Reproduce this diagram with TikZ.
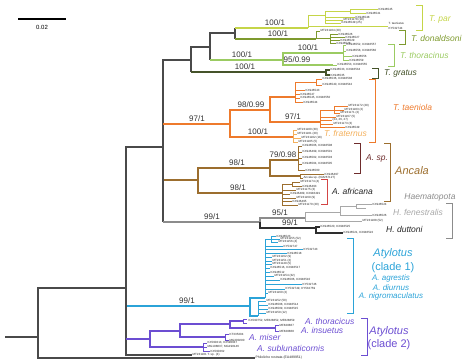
\documentclass[tikz,border=0pt]{standalone}
\usepackage{fontspec}
\setmainfont{Liberation Sans}
\definecolor{bb}{HTML}{4A4A4A}
\definecolor{tpar}{HTML}{C5D548}
\definecolor{tdon}{HTML}{7E9A2E}
\definecolor{tth}{HTML}{9BCB62}
\definecolor{tgr}{HTML}{45532A}
\definecolor{tae}{HTML}{EE7A2C}
\definecolor{fra}{HTML}{F3B05C}
\definecolor{anc}{HTML}{9C6E2E}
\definecolor{asp}{HTML}{6E2C2C}
\definecolor{afr}{HTML}{D34545}
\definecolor{hae}{HTML}{8C8C8C}
\definecolor{hfe}{HTML}{A8A8A8}
\definecolor{hdu}{HTML}{2E2E2E}
\definecolor{aty}{HTML}{2BA3D8}
\definecolor{atb}{HTML}{6C4ED2}
\tikzset{
 br/.style={line width=1.1pt},
 tb/.style={line width=0.75pt},
 tl/.style={font=\fontsize{3}{3.2}\selectfont, anchor=west, inner sep=0.4pt, text=black!85},
 bs/.style={font=\fontsize{8}{9}\selectfont, anchor=south, inner sep=0.6pt, text=black!80},
 sp/.style={font=\fontsize{8.5}{9}\selectfont\itshape, anchor=west, inner sep=0pt},
 grp/.style={font=\fontsize{11}{12}\selectfont, inner sep=0pt},
 brk/.style={line width=0.9pt},
}
\newcommand\tipc[5]{\coordinate (#1) at (#3); \draw[tb,#5] (#2) |- (#1); \node[tl] (#1l) at (#1) {#4};}
\newcommand\tipn[4]{\coordinate (#1) at (#3); \draw[tb,#4] (#2) |- (#1);}
\newcommand\inode[4]{\coordinate (#1) at (#3); \draw[tb,#4] (#2) |- (#1);}
\newcommand\cedge[4]{\draw[br,#3] (#1) -- (#1 |- #2); \draw[br,#4] (#1 |- #2) -- (#2);}
\newcommand\bsl[3]{\node[bs] (#1) at (#2) {#3};}
\newcommand\brkt[5]{\coordinate (#1a) at (#3,#4); \coordinate (#1b) at (#3,#5);
 \draw[brk,#2] ([xshift=-6pt]#1a) -- (#1a) -- (#1b) -- ([xshift=-6pt]#1b);}
\begin{document}
\begin{tikzpicture}[x=1pt,y=-1pt]
\useasboundingbox (0,0) rectangle (474,363);
% scale bar
\coordinate (sb1) at (18,19); \coordinate (sb2) at (66,19);
\draw[line width=1.2pt] (sb1) -- (sb2);
\node[font=\fontsize{6}{7}\selectfont] (sbl) at (42,27) {0.02};
% backbone
\coordinate (r0) at (5,337); \coordinate (R) at (38,337);
\coordinate (IN) at (126,288); \coordinate (OG) at (255,358);
\coordinate (U) at (163,147); \coordinate (X) at (192,355);
\draw[br,bb] (r0) -- (R);
\draw[br,bb] (R) |- (IN);
\draw[bb,line width=1.5pt] (R) |- (OG);
\node[tl,font=\fontsize{3.4}{3.6}\selectfont] (OGl) at (OG) {Philoliche rostrata (EU489951)};
\draw[br,bb] (IN) |- (U);
\draw[br,bb] (IN) |- (X);
\node[tl] (Xl) at (X) {MT231181 T. sp. (4)};
% T group
\coordinate (T0) at (191,60); \draw[br,bb] (U) |- (T0);
\coordinate (T1) at (210,47); \draw[br,bb] (T0) |- (T1);
\coordinate (T2) at (235,33); \draw[br,bb] (T1) |- (T2);
\coordinate (Tpar) at (308,28); \cedge{T2}{Tpar}{bb}{tpar}
\coordinate (Tdon) at (316,39); \cedge{T2}{Tdon}{bb}{tdon}
\coordinate (Tth) at (283,60); \cedge{T1}{Tth}{bb}{tth}
\coordinate (Tgr) at (326,72); \cedge{T0}{Tgr}{bb}{tgr}
% T. par
\tipc{tpa}{Tpar}{388,26}{\shortstack[l]{T. taeniatus\\KY532744}}{tpar}
\inode{tp1}{Tpar}{325,15}{tpar}
\inode{tp2}{tp1}{350,11}{tpar}
\tipc{tpb}{tp2}{378,9}{KX946545}{tpar}
\tipc{tpc}{tp2}{366,13}{KX946541}{tpar}
\tipc{tpd}{tp1}{355,17}{KX946548}{tpar}
\tipc{tpe}{tp1}{343,20}{MT231178 (19)}{tpar}
\tipc{tpf}{tp1}{341,23}{KX946549 (25)}{tpar}
% T. donaldsoni
\tipc{tda}{Tdon}{320,31}{MT231184 (20)}{tdon}
\inode{td1}{Tdon}{330,38}{tdon}
\tipc{tdb}{td1}{338,34}{KX946526}{tdon}
\tipc{tdc}{td1}{345,37}{KX946527}{tdon}
\tipc{tdd}{td1}{340,40}{KX946529}{tdon}
\tipc{tde}{td1}{336,43}{KX946528}{tdon}
% T. thoracinus
\coordinate (th1) at (343,53); \draw[br,tth] (Tth) |- (th1);
\coordinate (th2) at (333,65); \draw[br,tth] (Tth) |- (th2);
\tipc{tha}{th1}{346,45}{KX946552, KX946557}{tth}
\tipc{thb}{th1}{346,51}{KX946558, KX946560}{tth}
\tipc{thc}{th1}{352,56}{KX946556}{tth}
\tipc{thd}{th1}{349,60}{KX946559}{tth}
\tipc{the}{th2}{337,65}{KX946553, KX946555}{tth}
% T. gratus
\tipc{tga}{Tgr}{330,70}{KX946533, KX946534}{tgr,line width=1.2pt}
\tipc{tgb}{Tgr}{330,75}{KX946535}{tgr,line width=1.2pt}
% orange
\coordinate (O0) at (230,124); \cedge{U}{O0}{bb}{tae}
\coordinate (O1) at (270,110); \draw[br,tae] (O0) |- (O1);
\coordinate (O2) at (295,97); \draw[br,tae] (O1) |- (O2);
\coordinate (Ot) at (320,122); \draw[br,tae] (O1) |- (Ot);
\coordinate (Of) at (293,137); \draw[br,tae] (O0) |- (Of);
\inode{o3}{O2}{316,82}{tae}
\tipc{oa}{o3}{322,79}{KX946536, KX946538}{tae}
\tipc{ob}{o3}{322,85}{KX946540, KX946542}{tae}
\tipc{oc}{O2}{305,90}{KX946543}{tae}
\tipc{od}{O2}{300,94}{KX946547}{tae}
\tipc{oe}{O2}{300,98}{KX946545, KX946550}{tae}
\tipc{of}{O2}{303,102}{KX946544}{tae}
\inode{ot1}{Ot}{334,110}{tae}
\tipc{ota}{ot1}{348,106}{MT231172 (29)}{tae}
\tipc{otb}{ot1}{344,110}{MT231183 (2)}{tae}
\tipc{otc}{ot1}{340,113}{MT231171 (2)}{tae}
\tipc{otd}{Ot}{336,117}{MT231167 (5)}{tae}
\tipc{ote}{Ot}{332,120}{(24, 26, 27)}{tae}
\tipc{otf}{Ot}{333,124}{MT231173 (3)}{tae}
\tipc{otg}{Ot}{345,127}{KX946549}{tae}
\tipc{fa}{Of}{297,130}{MT231180 (30)}{fra}
\tipc{fb}{Of}{297,134}{MT231181 (20)}{fra}
\tipc{fc}{Of}{301,138}{MT231182 (18)}{fra}
\tipc{fd}{Of}{298,142}{MT231185 (5)}{fra}
% brown (Ancala)
\coordinate (B0) at (198,180); \cedge{U}{B0}{bb}{anc}
\coordinate (B1) at (270,168); \draw[br,anc] (B0) |- (B1);
\coordinate (Bsp) at (298,160); \draw[br,anc] (B1) |- (Bsp);
\coordinate (Bb) at (300,176); \draw[br,anc] (B1) |- (Bb);
\coordinate (Baf) at (282,193); \draw[br,anc] (B0) |- (Baf);
\tipc{sa}{Bsp}{302,146}{KX946506, KX946508}{anc}
\tipc{sb}{Bsp}{302,152}{KX946499, KX946501}{anc}
\tipc{sc}{Bsp}{302,158}{KX946502, KX946503}{anc}
\tipc{sd}{Bsp}{302,164}{KX946504, KX946505}{anc}
\tipc{se}{Bsp}{305,170}{KX946500}{anc}
\tipc{sf}{Bb}{324,174}{KX946497}{anc}
\tipc{sg}{Bb}{303,178}{Ancala sp. (KM267127)}{anc}
\inode{af1}{Baf}{292,184}{anc}
\tipc{aa}{af1}{300,182}{MT231174 (4)}{anc}
\tipc{ab}{af1}{302,186}{KX946493}{anc}
\tipc{ac}{Baf}{296,190}{MT231175 (3)}{anc}
\tipc{ad}{Baf}{290,194}{KX946489, KX946491}{anc}
\tipc{ae}{Baf}{296,198}{MT231169 (9)}{anc}
\tipc{ag}{Baf}{292,201}{KX946495}{anc}
\tipc{ah}{Baf}{298,205}{MT231170 (20)}{anc}
% Haematopota
\coordinate (H0) at (260,222); \cedge{U}{H0}{bb}{hae}
\coordinate (Hf) at (305,218); \draw[br,hae] (H0) |- (Hf);
\coordinate (Hd) at (316,228); \draw[br,hdu] (H0) |- (Hd);
\inode{hf1}{Hf}{340,212}{hfe}
\inode{hf2}{hf1}{356,206}{hfe}
\tipc{ha}{hf2}{372,204}{KX946524}{hfe}
\tipn{hb}{hf2}{366,208}{hfe}
\tipc{hc}{hf1}{372,215}{KX946526}{hfe}
\tipc{hd}{Hf}{362,221}{MT231188 (52)}{hfe}
\tipc{hda}{Hd}{320,227}{KX946520, KX946525}{hdu,line width=1.2pt}
\tipc{hdb}{Hd}{343,233}{KX946521, KX946522}{hdu,line width=1.2pt}
% Atylotus clade 1
\coordinate (C1) at (250,306); \cedge{IN}{C1}{bb}{aty}
\coordinate (C2) at (265,298); \draw[br,aty] (C1) |- (C2);
\coordinate (C3) at (258,316); \draw[br,aty] (C1) |- (C3);
\inode{c21}{C2}{271,239}{aty}
\tipc{ca}{c21}{276,236}{KX946523}{aty}
\tipc{cb}{c21}{280,239}{MT231155 (52)}{aty}
\tipc{cc}{c21}{278,242}{MT231156 (4)}{aty}
\tipc{cd}{C2}{283,246}{KY532747}{aty}
\tipc{ce}{C2}{303,249}{KY532743}{aty}
\tipc{cf}{C2}{287,253}{KX946518}{aty}
\tipc{cg}{C2}{272,257}{MT231162 (9)}{aty}
\tipc{ch}{C2}{272,261}{MT231151 (2)}{aty}
\tipc{ci}{C2}{272,264}{MT231149 (5)}{aty}
\tipc{cj}{C2}{270,268}{KX946516, KX946517}{aty}
\tipc{ck}{C2}{270,272}{KX946512}{aty}
\tipc{cl}{C2}{274,276}{MT231154 (32)}{aty}
\tipc{cm}{C2}{280,280}{KX946506, KX946510}{aty}
\tipc{cn}{C2}{302,284}{KY532746}{aty}
\tipc{co}{C2}{285,289}{KY532749, KY532759}{aty}
\tipc{cp}{C2}{268,293}{MT231160 (2)}{aty}
\tipc{cq}{C3}{266,301}{MT231152 (50)}{aty}
\tipc{cr}{C3}{268,305}{KX946508, KX946514}{aty}
\tipc{cs}{C3}{268,309}{KX946509, KX946515}{aty}
\tipc{ct}{C3}{266,313}{MT231159 (12)}{aty}
% Atylotus clade 2
\coordinate (P0) at (150,339); \cedge{IN}{P0}{bb}{atb}
\coordinate (P1) at (180,331); \draw[br,atb] (P0) |- (P1);
\coordinate (Ps) at (203,347); \draw[br,atb] (P0) |- (Ps);
\coordinate (P2) at (230,324); \draw[br,atb] (P1) |- (P2);
\coordinate (Pm) at (225,337); \draw[br,atb] (P1) |- (Pm);
\coordinate (Pt) at (243,321); \draw[br,atb] (P2) |- (Pt);
\coordinate (Pi) at (275,328); \draw[br,atb] (P2) |- (Pi);
\tipn{pta}{Pt}{247,319}{atb}
\tipn{ptb}{Pt}{247,323}{atb}
\node[tl] (ptl) at (248,321) {KX590752, MF828852, MF828859};
\tipc{pia}{Pi}{279,325}{MF828867}{atb}
\tipc{pib}{Pi}{279,331}{MF828868}{atb}
\tipc{pma}{Pm}{229,334}{KT335304}{atb}
\tipc{pmb}{Pm}{229,340}{MG300290}{atb}
\tipc{psa}{Ps}{207,343}{KX590213, KX590047}{atb}
\tipc{psb}{Ps}{207,347}{MG198837, MG198146}{atb}
\tipc{psc}{Ps}{210,351}{KX590262}{atb}
% bootstrap labels
\bsl{b1}{275,26.8}{100/1}
\bsl{b2}{278,37.8}{100/1}
\bsl{b3}{242,58.8}{100/1}
\bsl{b4}{308,51.8}{100/1}
\bsl{b5}{297,63.8}{95/0.99}
\bsl{b6}{245,70.8}{100/1}
\bsl{b7}{197,122.8}{97/1}
\bsl{b8}{251,108.8}{98/0.99}
\bsl{b9}{293,120.8}{97/1}
\bsl{b10}{258,135.8}{100/1}
\bsl{b11}{237,166.8}{98/1}
\bsl{b12}{283,158.8}{79/0.98}
\bsl{b13}{238,191.8}{98/1}
\bsl{b14}{212,220.8}{99/1}
\bsl{b15}{280,216.8}{95/1}
\bsl{b16}{290,226.8}{99/1}
\bsl{b17}{187,304.8}{99/1}
% brackets and clade names
\brkt{k1}{tpar}{422}{5}{30}
\node[sp,text=tpar] (n1) at (429,19) {T. par};
\brkt{k2}{tdon}{405}{30}{44}
\node[sp,text=tdon] (n2) at (411,38) {T. donaldsoni};
\brkt{k3}{tth}{394}{44}{66}
\node[sp,text=tth] (n3) at (400,55) {T. thoracinus};
\brkt{k4}{tgr}{378}{68}{78}
\node[sp,text=tgr] (n4) at (384,73) {T. gratus};
\brkt{k5}{tae}{375}{79}{142}
\node[sp,text=tae] (n5) at (393,107) {T. taeniola};
\node[sp,text=fra] (n6) at (324,133) {T. fraternus};
\brkt{k6}{asp}{360}{143}{173}
\node[sp,text=asp] (n7) at (366,158) {A. sp.};
\brkt{k7}{anc}{390}{143}{201}
\node[grp,anchor=west,text=anc,font=\fontsize{11}{12}\selectfont\itshape] (n8) at (395,171) {Ancala};
\brkt{k8}{afr}{327}{179}{204}
\node[sp,text=black!85] (n9) at (332,191) {A. africana};
\node[sp,anchor=center,text=hae] (n10) at (430,197) {Haematopota};
\brkt{k9}{hae}{452}{203}{238}
\node[sp,text=hfe] (n11) at (393,212) {H. fenestralis};
\node[sp,text=black!85] (n12) at (386,229) {H. duttoni};
\brkt{k10}{aty}{353}{238}{313}
\node[grp,text=aty,font=\fontsize{11}{12}\selectfont\itshape] (n13) at (393,254) {Atylotus};
\node[grp,text=aty] (n14) at (393,268) {(clade 1)};
\node[sp,anchor=center,text=aty,font=\fontsize{8}{8}\selectfont\itshape] (n15) at (391,278.5) {A. agrestis};
\node[sp,anchor=center,text=aty,font=\fontsize{8}{8}\selectfont\itshape] (n16) at (391,287.5) {A. diurnus};
\node[sp,anchor=center,text=aty,font=\fontsize{8}{8}\selectfont\itshape] (n17) at (391,296.5) {A. nigromaculatus};
\brkt{k11}{atb}{367}{318}{355}
\node[grp,text=atb,font=\fontsize{11}{12}\selectfont\itshape] (n18) at (389,332) {Atylotus};
\node[grp,text=atb] (n19) at (389,345) {(clade 2)};
\node[sp,text=atb] (n20) at (305,321) {A. thoracicus};
\node[sp,text=atb] (n21) at (301,330) {A. insuetus};
\node[sp,text=atb] (n22) at (249,337) {A. miser};
\node[sp,text=atb] (n23) at (257,348) {A. sublunaticornis};
\end{tikzpicture}
\end{document}
